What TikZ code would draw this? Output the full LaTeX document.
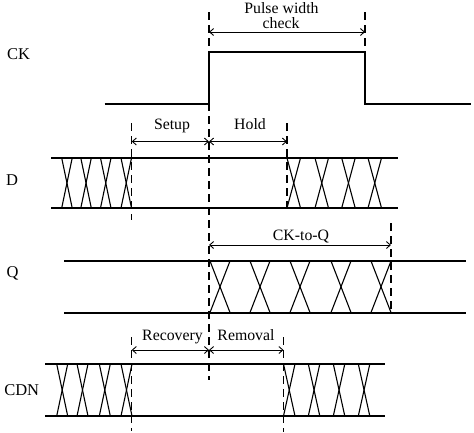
\documentclass[tikz,border=0pt]{standalone}
\usepackage{fontspec}
\setmainfont{Liberation Serif}
\usetikzlibrary{arrows.meta}
\begin{document}
\begin{tikzpicture}[x=1bp,y=-1bp,
  signal/.style={line width=2bp},
  xline/.style={line width=1.1bp},
  guide/.style={line width=1.2bp, dash pattern=on 8bp off 5bp},
  dim/.style={line width=0.9bp, {Straight Barb[length=4bp,width=7bp]}-{Straight Barb[length=4bp,width=7bp]}},
  lbl/.style={anchor=base, inner sep=0pt, font=\fontsize{15.8bp}{18bp}\selectfont},
  sig/.style={anchor=base, inner sep=0pt, font=\fontsize{16.5bp}{19bp}\selectfont}]
\useasboundingbox (0,0) rectangle (474,432);

% signal names
\node[sig] (nck) at (18.7,59) {CK};
\node[sig] (nd) at (12,185) {D};
\node[sig] (nq) at (12.5,277) {Q};
\node[sig] (ncdn) at (21.7,395) {CDN};

% CK waveform
\draw[signal] (104.5,103.5) -- (209,103.5) -- (209,52) -- (365,52) -- (365,103.5) -- (471,103.5);

% D bus
\draw[signal] (51,158) -- (398,158);
\draw[signal] (51,208) -- (398,208);
\foreach \a/\w in {61.7/10.5, 80.8/10.5, 100.5/10.5, 121/10.5} {
  \draw[xline] (\a,158) -- (\a+\w,208);
  \draw[xline] (\a+\w,158) -- (\a,208);
}
\foreach \a/\w in {287/13.5, 315/13.5, 341.7/13.5, 368/13.5} {
  \draw[xline] (\a,158) -- (\a+\w,208);
  \draw[xline] (\a+\w,158) -- (\a,208);
}

% Q bus
\draw[signal] (64,261) -- (466,261);
\draw[signal] (64,312.5) -- (466,312.5);
\foreach \a in {210,250,290,331,371} {
  \draw[xline] (\a,261) -- (\a+20,312.5);
  \draw[xline] (\a+20,261) -- (\a,312.5);
}

% CDN bus
\draw[signal] (45,364) -- (385,364);
\draw[signal] (45,416) -- (385,416);
\foreach \a/\w in {56.7/11, 77/11, 99.3/11, 121/11} {
  \draw[xline] (\a,364) -- (\a+\w,416);
  \draw[xline] (\a+\w,364) -- (\a,416);
}
\foreach \a/\w in {283.5/11.5, 308.3/11.5, 333.3/11.5, 358.3/11.5} {
  \draw[xline] (\a,364) -- (\a+\w,416);
  \draw[xline] (\a+\w,364) -- (\a,416);
}

% guide lines
\coordinate (g1t) at (209,12);   \coordinate (g1b) at (209,380);
\coordinate (g2t) at (365,12);   \coordinate (g2b) at (365,47);
\coordinate (g3t) at (131.7,123);\coordinate (g3b) at (131.7,220);
\coordinate (g4t) at (287,123);  \coordinate (g4b) at (287,208);
\coordinate (g5t) at (391,223);  \coordinate (g5b) at (391,312);
\coordinate (g6t) at (131.7,337);\coordinate (g6b) at (131.7,431);
\coordinate (g7t) at (283.5,337);\coordinate (g7b) at (283.5,432);
\foreach \g in {1,...,7} \draw[guide] (g\g t) -- (g\g b);

% dimension arrows
\coordinate (pw1) at (209,32);   \coordinate (pw2) at (365,32);
\draw[dim] (pw1) -- (pw2);
\node[lbl] (tpw1) at (281.5,13) {Pulse width};
\node[lbl] (tpw2) at (281,28.5) {check};

\coordinate (su1) at (131.7,141.5); \coordinate (su2) at (209,141.5); \coordinate (su3) at (287,141.5);
\draw[dim] (su1) -- (su2);
\draw[dim] (su2) -- (su3);
\node[lbl] (tsu) at (172,129) {Setup};
\node[lbl] (tho) at (250,129) {Hold};

\coordinate (cq1) at (209,245); \coordinate (cq2) at (391,245);
\draw[dim] (cq1) -- (cq2);
\node[lbl] (tcq) at (301,240.5) {CK-to-Q};

\coordinate (rr1) at (131.7,350); \coordinate (rr2) at (209,350); \coordinate (rr3) at (283.5,350);
\draw[dim] (rr1) -- (rr2);
\draw[dim] (rr2) -- (rr3);
\node[lbl] (trc) at (172.5,340) {Recovery};
\node[lbl] (trm) at (246,340) {Removal};
\end{tikzpicture}
\end{document}
